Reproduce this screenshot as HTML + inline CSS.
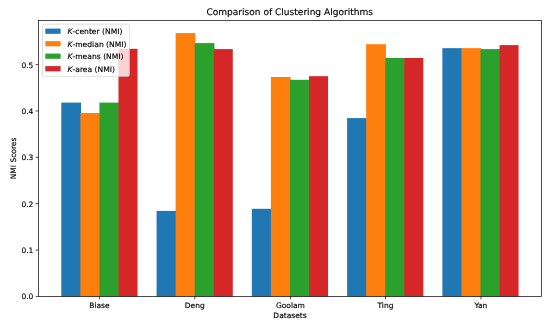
<!DOCTYPE html>
<html><head><meta charset="utf-8"><title>Comparison of Clustering Algorithms</title>
<style>
html,body{margin:0;padding:0;background:#fff;}
body{width:550px;height:325px;overflow:hidden;}
svg{display:block;}
text{font-family:"DejaVu Sans","Liberation Sans",sans-serif;fill:#000;text-rendering:geometricPrecision;stroke:#000;stroke-width:0.15px;}
.t{font-size:7.50px;}
.title{font-size:9.05px;}
</style></head><body>
<svg width="550" height="325" viewBox="0 0 550 325">
<rect x="0" y="0" width="550" height="325" fill="#fff"/>

<rect x="61.31" y="102.60" width="19.75" height="193.80" fill="#1f77b4"/>
<rect x="80.37" y="113.00" width="19.75" height="183.40" fill="#ff7f0e"/>
<rect x="99.42" y="102.60" width="19.75" height="193.80" fill="#2ca02c"/>
<rect x="118.47" y="48.80" width="19.05" height="247.60" fill="#d62728"/>
<rect x="156.58" y="210.90" width="19.75" height="85.50" fill="#1f77b4"/>
<rect x="175.63" y="33.10" width="19.75" height="263.30" fill="#ff7f0e"/>
<rect x="194.68" y="43.10" width="19.75" height="253.30" fill="#2ca02c"/>
<rect x="213.74" y="49.10" width="19.05" height="247.30" fill="#d62728"/>
<rect x="251.84" y="208.80" width="19.75" height="87.60" fill="#1f77b4"/>
<rect x="270.90" y="77.00" width="19.75" height="219.40" fill="#ff7f0e"/>
<rect x="289.95" y="79.80" width="19.75" height="216.60" fill="#2ca02c"/>
<rect x="309.00" y="76.20" width="19.05" height="220.20" fill="#d62728"/>
<rect x="347.11" y="118.10" width="19.75" height="178.30" fill="#1f77b4"/>
<rect x="366.16" y="44.20" width="19.75" height="252.20" fill="#ff7f0e"/>
<rect x="385.22" y="58.00" width="19.75" height="238.40" fill="#2ca02c"/>
<rect x="404.27" y="58.00" width="19.05" height="238.40" fill="#d62728"/>
<rect x="442.37" y="48.15" width="19.75" height="248.25" fill="#1f77b4"/>
<rect x="461.43" y="48.15" width="19.75" height="248.25" fill="#ff7f0e"/>
<rect x="480.48" y="49.10" width="19.75" height="247.30" fill="#2ca02c"/>
<rect x="499.53" y="45.10" width="19.05" height="251.30" fill="#d62728"/>
<rect x="38.50" y="20.50" width="503.00" height="275.90" fill="none" stroke="#000" stroke-width="0.7"/>
<line x1="99.45" y1="296.40" x2="99.45" y2="299.30" stroke="#000" stroke-width="0.7"/>
<text class="t" x="99.45" y="307.60" text-anchor="middle">Biase</text>
<line x1="194.80" y1="296.40" x2="194.80" y2="299.30" stroke="#000" stroke-width="0.7"/>
<text class="t" x="194.80" y="307.60" text-anchor="middle">Deng</text>
<line x1="290.45" y1="296.40" x2="290.45" y2="299.30" stroke="#000" stroke-width="0.7"/>
<text class="t" x="290.45" y="307.60" text-anchor="middle">Goolam</text>
<line x1="385.50" y1="296.40" x2="385.50" y2="299.30" stroke="#000" stroke-width="0.7"/>
<text class="t" x="385.50" y="307.60" text-anchor="middle">Ting</text>
<line x1="480.90" y1="296.40" x2="480.90" y2="299.30" stroke="#000" stroke-width="0.7"/>
<text class="t" x="480.90" y="307.60" text-anchor="middle">Yan</text>
<line x1="35.60" y1="296.40" x2="38.50" y2="296.40" stroke="#000" stroke-width="0.7"/>
<text class="t" x="33.40" y="299.35" text-anchor="end">0.0</text>
<line x1="35.60" y1="250.04" x2="38.50" y2="250.04" stroke="#000" stroke-width="0.7"/>
<text class="t" x="33.40" y="252.99" text-anchor="end">0.1</text>
<line x1="35.60" y1="203.68" x2="38.50" y2="203.68" stroke="#000" stroke-width="0.7"/>
<text class="t" x="33.40" y="206.63" text-anchor="end">0.2</text>
<line x1="35.60" y1="157.32" x2="38.50" y2="157.32" stroke="#000" stroke-width="0.7"/>
<text class="t" x="33.40" y="160.27" text-anchor="end">0.3</text>
<line x1="35.60" y1="110.96" x2="38.50" y2="110.96" stroke="#000" stroke-width="0.7"/>
<text class="t" x="33.40" y="113.91" text-anchor="end">0.4</text>
<line x1="35.60" y1="64.60" x2="38.50" y2="64.60" stroke="#000" stroke-width="0.7"/>
<text class="t" x="33.40" y="67.55" text-anchor="end">0.5</text>
<text class="title" x="289.70" y="15.3" text-anchor="middle">Comparison of Clustering Algorithms</text>
<text class="t" x="290.00" y="318.1" text-anchor="middle">Datasets</text>
<text class="t" transform="translate(16,158.45) rotate(-90)" text-anchor="middle">NMI Scores</text>
<rect x="42.5" y="24.2" width="87.0" height="52.2" rx="1.6" ry="1.6" fill="#fff" fill-opacity="0.8" stroke="#ccc" stroke-opacity="0.8" stroke-width="0.7"/>
<rect x="45.3" y="28.60" width="15.3" height="5.2" fill="#1f77b4"/>
<text class="t" style="font-size:7.6px" x="67.5" y="34.00"><tspan font-style="italic">K</tspan>-center (NMI)</text>
<rect x="45.3" y="41.10" width="15.3" height="5.2" fill="#ff7f0e"/>
<text class="t" style="font-size:7.6px" x="67.5" y="46.50"><tspan font-style="italic">K</tspan>-median (NMI)</text>
<rect x="45.3" y="53.60" width="15.3" height="5.2" fill="#2ca02c"/>
<text class="t" style="font-size:7.6px" x="67.5" y="59.00"><tspan font-style="italic">K</tspan>-means (NMI)</text>
<rect x="45.3" y="66.10" width="15.3" height="5.2" fill="#d62728"/>
<text class="t" style="font-size:7.6px" x="67.5" y="71.50"><tspan font-style="italic">K</tspan>-area (NMI)</text>
</svg></body></html>
